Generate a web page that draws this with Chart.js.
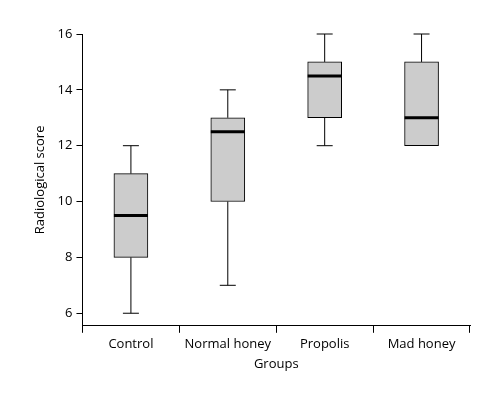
<!DOCTYPE html>
<html><head><script src="https://cdn.jsdelivr.net/npm/chart.js@4"></script>
<style>body{margin:0;background:#fff}#w{width:500px;height:400px}</style></head>
<body><div id="w"><canvas id="c"></canvas></div>
<script>
const categories=["Control","Normal honey","Propolis","Mad honey"];
const mins=[6,7,12,12];
const q1s=[8,10,13,12];
const medians=[9.5,12.5,14.5,13];
const q3s=[11,13,15,15];
const maxs=[12,14,16,16];
const yTicks=[6,8,10,12,14,16];
const F="'Open Sans', 'Noto Sans', sans-serif";
const boxPlugin={id:'bx',afterDatasetsDraw(ch){
 const ctx=ch.ctx,x=ch.scales.x,y=ch.scales.y;
 const meta=ch.getDatasetMeta(0);
 ctx.save();ctx.strokeStyle='#000';
 meta.data.forEach((b,i)=>{
  const cx=b.x,hw=b.width/2,cap=8;
  ctx.lineWidth=1;ctx.beginPath();
  const yq1=y.getPixelForValue(q1s[i]),yq3=y.getPixelForValue(q3s[i]);
  const ymin=y.getPixelForValue(mins[i]),ymax=y.getPixelForValue(maxs[i]);
  if(mins[i]<q1s[i]){ctx.moveTo(cx,yq1);ctx.lineTo(cx,ymin);ctx.moveTo(cx-cap,ymin);ctx.lineTo(cx+cap,ymin);}
  if(maxs[i]>q3s[i]){ctx.moveTo(cx,yq3);ctx.lineTo(cx,ymax);ctx.moveTo(cx-cap,ymax);ctx.lineTo(cx+cap,ymax);}
  ctx.stroke();
  ctx.lineWidth=3;ctx.beginPath();
  const ym=y.getPixelForValue(medians[i]);
  ctx.moveTo(cx-hw,ym);ctx.lineTo(cx+hw,ym);ctx.stroke();
 });
 ctx.restore();}};
new Chart(document.getElementById('c'),{type:'bar',
 data:{labels:categories,datasets:[{data:categories.map((c,i)=>[q1s[i],q3s[i]]),backgroundColor:'#cccccc',borderColor:'#000',borderWidth:1,borderSkipped:false,barThickness:34}]},
 options:{animation:false,responsive:true,maintainAspectRatio:false,
 layout:{padding:{top:34,right:30,left:28,bottom:24}},
 plugins:{legend:{display:false},tooltip:{enabled:false}},
 scales:{
  x:{offset:true,border:{color:'#000'},grid:{offset:true,drawOnChartArea:false,color:'#000',tickLength:7},
   ticks:{color:'#000',font:{family:F,size:13},padding:4},
   title:{display:true,text:'Groups',color:'#000',font:{family:F,size:13},padding:{top:0}}},
  y:{min:5.55,max:16,afterBuildTicks(a){a.ticks=yTicks.map(v=>({value:v}));},
   border:{color:'#000'},grid:{drawOnChartArea:false,color:'#000',tickLength:6},
   ticks:{color:'#000',font:{family:F,size:13},padding:4},
   title:{display:true,text:'Radiological score',color:'#000',font:{family:F,size:13},padding:{bottom:6}}}
 }},plugins:[boxPlugin]});
</script></body></html>
